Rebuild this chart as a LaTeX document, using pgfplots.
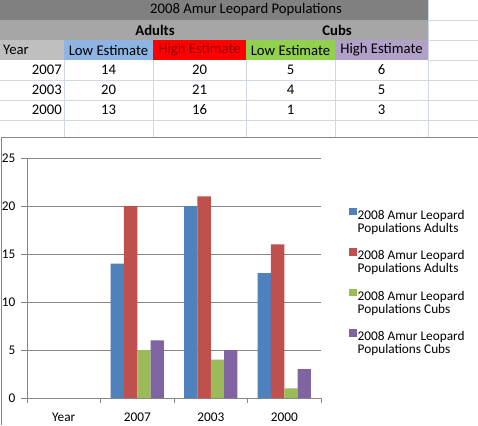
\documentclass[border=0pt]{standalone}
\usepackage{fontspec}
\setmainfont{Carlito}
\usepackage{pgfplots}
\pgfplotsset{compat=1.18}
\definecolor{xblue}{RGB}{79,129,189}
\definecolor{xred}{RGB}{192,80,77}
\definecolor{xgreen}{RGB}{155,187,89}
\definecolor{xpurple}{RGB}{128,100,162}
\definecolor{cblue}{RGB}{141,180,226}
\definecolor{cgreen}{RGB}{146,208,80}
\definecolor{cpurple}{RGB}{177,160,199}
\definecolor{titlegray}{RGB}{128,128,128}
\definecolor{subgray}{RGB}{166,166,166}
\definecolor{yeargray}{RGB}{191,191,191}
\definecolor{gridxl}{RGB}{208,215,229}
\definecolor{chartgray}{RGB}{134,134,134}
\definecolor{darkredtext}{RGB}{150,0,0}
\newcommand{\twol}[2]{\begin{tabular}[t]{@{}l@{}}#1\\#2\end{tabular}}
\begin{document}
\begin{tikzpicture}[x=1bp,y=1bp]
\path[use as bounding box,fill=white] (0,0) rectangle (478,425);
% ---- spreadsheet table ----
\fill[titlegray] (0,405) rectangle (428,425);
\fill[subgray] (0,385) rectangle (428,405);
\fill[yeargray] (0,365) rectangle (64,385);
\fill[cblue] (64,365) rectangle (153,385);
\fill[red] (153,365) rectangle (246,385);
\fill[cgreen] (246,365) rectangle (335,385);
\fill[cpurple] (335,365) rectangle (428,385);
\begin{scope}[gridxl,line width=0.8bp]
\foreach \yy in {405,385,365} \draw (428,\yy) -- (478,\yy);
\foreach \yy in {345,325,305} \draw (0,\yy) -- (478,\yy);
\foreach \xx in {64,153,246,335} \draw (\xx,365) -- (\xx,288);
\draw (428,425) -- (428,288);
\end{scope}
\begin{scope}[font=\fontsize{14.7bp}{17bp}\selectfont,inner sep=0pt]
\node at (246,415) {2008 Amur Leopard Populations};
\node at (155,395) {\bfseries Adults};
\node at (337,395) {\bfseries Cubs};
\node[anchor=west] at (3,375) {Year};
\node at (108.5,375) {Low Estimate};
\node[text=darkredtext] at (199.5,375) {High Estimate};
\node at (290.5,375) {Low Estimate};
\node at (381.5,375) {High Estimate};
\node[anchor=east] at (62,355) {2007};
\node[anchor=east] at (62,335) {2003};
\node[anchor=east] at (62,315) {2000};
\node at (108.5,355) {14};\node at (199.5,355) {20};\node at (290.5,355) {5};\node at (381.5,355) {6};
\node at (108.5,335) {20};\node at (199.5,335) {21};\node at (290.5,335) {4};\node at (381.5,335) {5};
\node at (108.5,315) {13};\node at (199.5,315) {16};\node at (290.5,315) {1};\node at (381.5,315) {3};
\end{scope}
% ---- chart area ----
\fill[white] (1,0) rectangle (478,288);
\draw[chartgray,line width=1bp] (478,288) -- (1,288) -- (1,0);
\begin{axis}[
  at={(27bp,27bp)}, anchor=south west,
  scale only axis, width=294bp, height=240bp,
  xmin=0, xmax=4, ymin=0, ymax=25,
  ybar=0pt, bar width=13.33bp,
  xtick={0.5,1.5,2.5,3.5}, xticklabels={Year,2007,2003,2000},
  minor xtick={0,1,2,3,4},
  ytick={0,5,10,15,20,25},
  ymajorgrids, major grid style={chartgray,line width=0.8bp},
  axis x line*=bottom, axis y line*=left,
  axis line style={chartgray,line width=0.8bp,-},
  tick align=outside,
  major x tick style={draw=none},
  minor x tick style={chartgray,line width=0.8bp},
  major y tick style={chartgray,line width=0.8bp},
  major tick length=6bp, minor tick length=5bp,
  tick label style={font=\fontsize{13.3bp}{15bp}\selectfont, text=black},
  /pgf/number format/assume math mode=true,
  xticklabel style={yshift=-5bp},
  yticklabel style={xshift=-2bp},
  legend style={draw=none, fill=none, at={(1.085,0.802)}, anchor=north west,
    font=\fontsize{13.3bp}{13.3bp}\selectfont,
    nodes={inner sep=1bp}, row sep=26.6bp},
  legend cell align=left,
  legend image code/.code={\path[#1,draw=none] (0bp,0bp) rectangle (7.5bp,7.5bp);},
]
\addplot[fill=xblue,draw=none] coordinates {(1.5,14) (2.5,20) (3.5,13)};
\addlegendentry{\twol{2008 Amur Leopard}{Populations Adults}}
\addplot[fill=xred,draw=none] coordinates {(1.5,20) (2.5,21) (3.5,16)};
\addlegendentry{\twol{2008 Amur Leopard}{Populations Adults}}
\addplot[fill=xgreen,draw=none] coordinates {(1.5,5) (2.5,4) (3.5,1)};
\addlegendentry{\twol{2008 Amur Leopard}{Populations Cubs}}
\addplot[fill=xpurple,draw=none] coordinates {(1.5,6) (2.5,5) (3.5,3)};
\addlegendentry{\twol{2008 Amur Leopard}{Populations Cubs}}
\end{axis}
\end{tikzpicture}
\end{document}
